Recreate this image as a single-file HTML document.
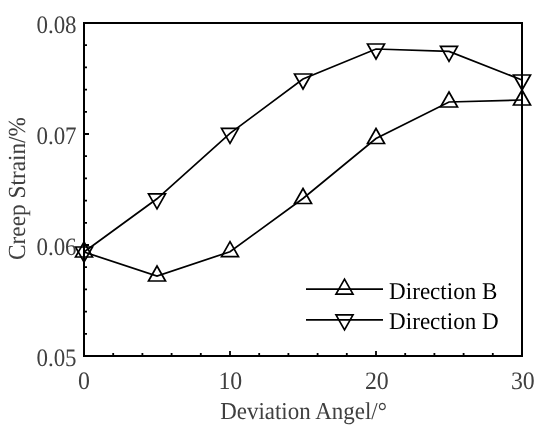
<!DOCTYPE html>
<html><head><meta charset="utf-8"><title>Creep Strain vs Deviation Angel</title>
<style>html,body{margin:0;padding:0;background:#fff;}svg{display:block;}</style></head>
<body><svg width="550" height="431" viewBox="0 0 550 431" text-rendering="geometricPrecision">
<rect width="550" height="431" fill="#fff"/>
<rect x="84" y="23" width="438" height="333" fill="none" stroke="#000" stroke-width="2"/>
<path d="M84.00,356V351.00M113.20,356V353.00M142.40,356V353.00M171.60,356V353.00M200.80,356V353.00M230.00,356V351.00M259.20,356V353.00M288.40,356V353.00M317.60,356V353.00M346.80,356V353.00M376.00,356V351.00M405.20,356V353.00M434.40,356V353.00M463.60,356V353.00M492.80,356V353.00M522.00,356V351.00M84,356.00H89.00M84,333.80H87.00M84,311.60H87.00M84,289.40H87.00M84,267.20H87.00M84,245.00H89.00M84,222.80H87.00M84,200.60H87.00M84,178.40H87.00M84,156.20H87.00M84,134.00H89.00M84,111.80H87.00M84,89.60H87.00M84,67.40H87.00M84,45.20H87.00M84,23.00H89.00" stroke="#000" stroke-width="1.8" fill="none"/>
<polyline points="84.00,252.00 157.00,276.00 230.00,251.70 303.00,198.50 376.00,138.50 449.00,102.00 522.00,100.00" fill="none" stroke="#000" stroke-width="1.7"/>
<path d="M84.00,242.00L92.50,257.00L75.50,257.00ZM157.00,266.00L165.50,281.00L148.50,281.00ZM230.00,241.70L238.50,256.70L221.50,256.70ZM303.00,188.50L311.50,203.50L294.50,203.50ZM376.00,128.50L384.50,143.50L367.50,143.50ZM449.00,92.00L457.50,107.00L440.50,107.00ZM522.00,90.00L530.50,105.00L513.50,105.00Z" fill="none" stroke="#000" stroke-width="1.7"/>
<polyline points="84.00,252.00 157.00,198.80 230.00,133.30 303.00,79.00 376.00,49.00 449.00,51.40 522.00,80.00" fill="none" stroke="#000" stroke-width="1.7"/>
<path d="M84.00,262.00L92.50,247.00L75.50,247.00ZM157.00,208.80L165.50,193.80L148.50,193.80ZM230.00,143.30L238.50,128.30L221.50,128.30ZM303.00,89.00L311.50,74.00L294.50,74.00ZM376.00,59.00L384.50,44.00L367.50,44.00ZM449.00,61.40L457.50,46.40L440.50,46.40ZM522.00,90.00L530.50,75.00L513.50,75.00Z" fill="none" stroke="#000" stroke-width="1.7"/>
<path d="M306,289.1H383" stroke="#000" stroke-width="1.7"/>
<path d="M344.50,279.10L353.00,294.10L336.00,294.10Z" fill="none" stroke="#000" stroke-width="1.7"/>
<path d="M306,319.9H383" stroke="#000" stroke-width="1.7"/>
<path d="M344.50,329.90L353.00,314.90L336.00,314.90Z" fill="none" stroke="#000" stroke-width="1.7"/>
<g style="font-family:'Liberation Serif',serif" fill="#111"><text transform="translate(76.60,32.90) scale(0.9150,1)" font-size="25.10" text-anchor="end" fill="#404040">0.08</text><text transform="translate(76.60,143.90) scale(0.9150,1)" font-size="25.10" text-anchor="end" fill="#404040">0.07</text><text transform="translate(76.60,254.90) scale(0.9150,1)" font-size="25.10" text-anchor="end" fill="#404040">0.06</text><text transform="translate(76.60,365.90) scale(0.9150,1)" font-size="25.10" text-anchor="end" fill="#404040">0.05</text><text transform="translate(84.00,388.70) scale(0.9500,1)" font-size="25.10" text-anchor="middle" fill="#404040">0</text><text transform="translate(230.30,388.70) scale(0.9500,1)" font-size="25.10" text-anchor="middle" fill="#404040">10</text><text transform="translate(376.80,388.70) scale(0.9500,1)" font-size="25.10" text-anchor="middle" fill="#404040">20</text><text transform="translate(522.80,388.70) scale(0.9500,1)" font-size="25.10" text-anchor="middle" fill="#404040">30</text><text transform="translate(303.50,419.20) scale(0.9450,1)" font-size="24.30" text-anchor="middle" fill="#404040">Deviation Angel/°</text><text transform="translate(24.80,188.50) rotate(-90) scale(0.9500,1)" font-size="24.50" text-anchor="middle" fill="#404040">Creep Strain/%</text><text transform="translate(389.10,298.80) scale(0.9620,1)" font-size="24.00" fill="#000">Direction B</text><text transform="translate(389.10,328.90) scale(0.9620,1)" font-size="24.00" fill="#000">Direction D</text></g>
</svg></body></html>
